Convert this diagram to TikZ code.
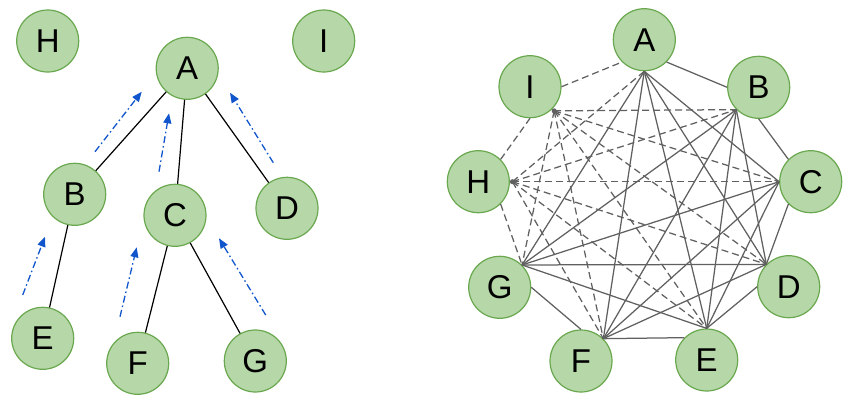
\documentclass[tikz,border=0pt]{standalone}
\usepackage{fontspec}
\setmainfont{Liberation Sans}
\usetikzlibrary{arrows.meta}
\definecolor{nfill}{HTML}{B6D7A8}
\definecolor{nline}{HTML}{6AA84F}
\definecolor{arr}{HTML}{1155CC}
\definecolor{edg}{HTML}{606060}
\begin{document}
\begin{tikzpicture}[x=1pt,y=-1pt,
  vtx/.style={circle,draw=nline,fill=nfill,line width=1.2pt,minimum size=62pt,inner sep=0pt,font=\fontsize{33}{40}\selectfont},
  tree/.style={draw=black,line width=1.2pt},
  back/.style={draw=arr,line width=1.3pt,dash pattern=on 7pt off 3pt on 1.5pt off 3pt,-{Triangle[length=10pt,width=8pt]}},
  full/.style={draw=edg,line width=1.25pt},
  part/.style={draw=edg,line width=1.25pt,dash pattern=on 7pt off 4pt},
  hubdot/.style={fill=edg},
]
\useasboundingbox (0,0) rectangle (859,408);

% ---------- left: tree ----------
\node[vtx] (lH) at (47.7,41) {H};
\node[vtx] (lI) at (323.7,41) {I};
\node[vtx] (lA) at (187.2,68.3) {A};
\node[vtx] (lB) at (74.7,194.3) {B};
\node[vtx] (lC) at (175,215.3) {C};
\node[vtx] (lD) at (287,208.3) {D};
\node[vtx] (lE) at (42.7,338.3) {E};
\node[vtx] (lF) at (137.7,363.3) {F};
\node[vtx] (lG) at (255.3,361) {G};

\draw[tree] (lA) -- (lB);
\draw[tree] (lA) -- (lC);
\draw[tree] (lA) -- (lD);
\draw[tree] (lB) -- (lE);
\draw[tree] (lC) -- (lF);
\draw[tree] (lC) -- (lG);

\coordinate (bBA0) at (95,151.7);   \coordinate (bBA1) at (141.7,91.7);
\coordinate (bCA0) at (159,171.7);  \coordinate (bCA1) at (169,113.3);
\coordinate (bDA0) at (273.3,162.7);\coordinate (bDA1) at (230,92.7);
\coordinate (bEB0) at (22.7,295);   \coordinate (bEB1) at (45,236.7);
\coordinate (bFC0) at (120,316.7);  \coordinate (bFC1) at (136.7,247.3);
\coordinate (bGC0) at (265.7,315);  \coordinate (bGC1) at (219,238.3);
\draw[back] (bBA0) -- (bBA1);
\draw[back] (bCA0) -- (bCA1);
\draw[back] (bDA0) -- (bDA1);
\draw[back] (bEB0) -- (bEB1);
\draw[back] (bFC0) -- (bFC1);
\draw[back] (bGC0) -- (bGC1);

% ---------- right: complete graph ----------
\node[vtx] (A) at (644.3,39.7) {A};
\node[vtx] (B) at (758.7,87.3) {B};
\node[vtx] (C) at (810.7,181.7) {C};
\node[vtx] (D) at (788.7,286.7) {D};
\node[vtx] (E) at (706.7,360) {E};
\node[vtx] (F) at (581,361) {F};
\node[vtx] (G) at (499.7,287.3) {G};
\node[vtx] (H) at (478.3,181.7) {H};
\node[vtx] (I) at (530,86.7) {I};

\coordinate (hA) at (A.south);
\coordinate (hB) at (B.south west);
\coordinate (hC) at (C.west);
\coordinate (hD) at (D.north west);
\coordinate (hE) at (E.north);
\coordinate (hF) at (F.north east);
\coordinate (hG) at (G.north east);
\coordinate (hH) at ([xshift=2.5pt]H.east);
\coordinate (hI) at ([xshift=1.8pt,yshift=-1.8pt]I.south east);

% ring edges
\draw[full] (A.south east) -- (B.west);
\draw[full] (B.south) -- (C.north west);
\draw[full] (C.south west) -- (hD);
\draw[full] (D.west) -- (hE);
\draw[full] (E.north west) -- (hF);
\draw[full] (F.north) -- (G.east);
\draw[part] (H.south east) -- (hG);
\draw[part] (H.north east) -- (I.south);
\draw[part] (I.east) -- (A.south west);

% solid hub edges
\foreach \u/\v in {A/C,A/D,A/E,A/F,A/G,B/D,B/E,B/F,B/G,C/E,C/F,C/G,D/F,D/G,E/G}
  \draw[full] (h\u) -- (h\v);

% dashed hub edges
\foreach \v in {B,C,D,E,F,G}
  \draw[part] (hI) -- (h\v);
\foreach \v in {A,B,C,D,E,F}
  \draw[part] (hH) -- (h\v);

\fill[hubdot] (hI) circle (2.5pt);
\fill[hubdot] (hH) circle (2.5pt);
\end{tikzpicture}
\end{document}
